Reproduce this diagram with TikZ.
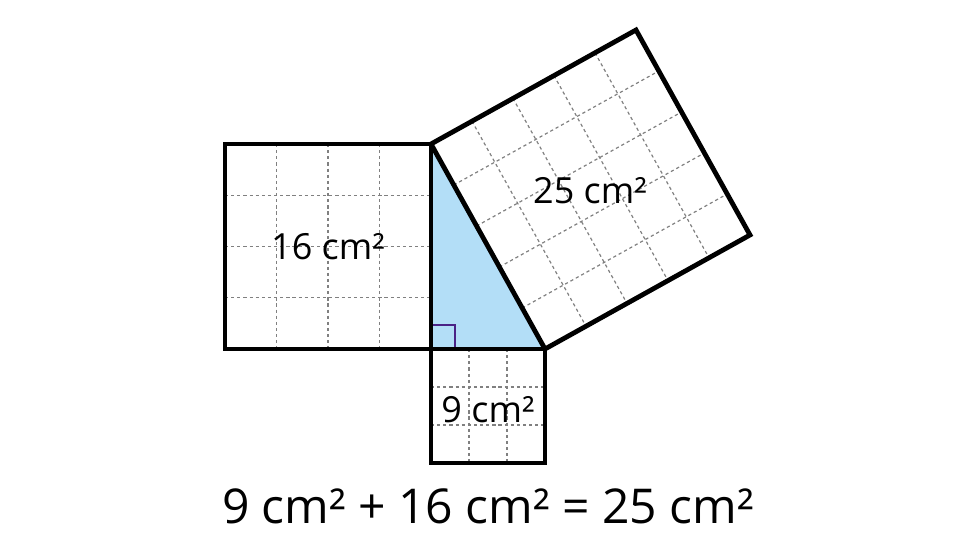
\documentclass[tikz,border=0pt]{standalone}
\usepackage{fontspec}
\setmainfont{Open Sans}
\usetikzlibrary{calc}
\definecolor{triblue}{HTML}{B3DEF7}
\definecolor{anglepurple}{HTML}{4A2286}
\begin{document}
\begin{tikzpicture}[x=0.75pt,y=-0.75pt,
    side/.style={line width=3.6pt,black},
    gridline/.style={gray,line width=0.9pt,dash pattern=on 2.4pt off 2.2pt},
    area/.style={font=\fontsize{27}{30}\selectfont,inner sep=0pt}]
    \useasboundingbox (0,0) rectangle (976,549);
    % Corners
    \coordinate (C) at (431,349);
    \coordinate (A) at (431,144);
    \coordinate (B) at (545,349);
    \coordinate (L1) at (225,144);
    \coordinate (L2) at (225,349);
    \coordinate (S1) at (431,463);
    \coordinate (S2) at (545,463);
    \coordinate (H1) at ($(B)+(205,-114)$);
    \coordinate (H2) at ($(A)+(205,-114)$);
    % Triangle
    \fill[triblue] (A) -- (B) -- (C) -- cycle;
    % Grids
    \foreach \i in {1,2,3} {
            \draw[gridline] ($(L1)!\i/4!(A)$) -- ($(L2)!\i/4!(C)$);
            \draw[gridline] ($(L1)!\i/4!(L2)$) -- ($(A)!\i/4!(C)$);
        }
    \foreach \i in {1,2} {
            \draw[gridline] ($(C)!\i/3!(B)$) -- ($(S1)!\i/3!(S2)$);
            \draw[gridline] ($(C)!\i/3!(S1)$) -- ($(B)!\i/3!(S2)$);
        }
    \foreach \i in {1,2,3,4} {
            \draw[gridline] ($(A)!\i/5!(B)$) -- ($(H2)!\i/5!(H1)$);
            \draw[gridline] ($(A)!\i/5!(H2)$) -- ($(B)!\i/5!(H1)$);
        }
    % Right angle
    \draw[anglepurple,line width=2.2pt] ($(C)+(0,-24)$) -- ++(24,0) -- ++(0,24);
    % Squares
    \draw[side] (L1) rectangle (C);
    \draw[side] (C) rectangle (S2);
    \draw[side] (A) -- (B) -- (H1) -- (H2) -- cycle;
    % Labels
    \node[area] (sixteen) at (328,247) {16 cm²};
    \node[area] (nine) at (488,410) {9 cm²};
    \node[area] (twentyfive) at (590,191) {25 cm²};
    \node[font=\fontsize{36}{40}\selectfont,inner sep=0pt] (sum) at (488,506) {9 cm² + 16 cm² = 25 cm²};
\end{tikzpicture}
\end{document}
